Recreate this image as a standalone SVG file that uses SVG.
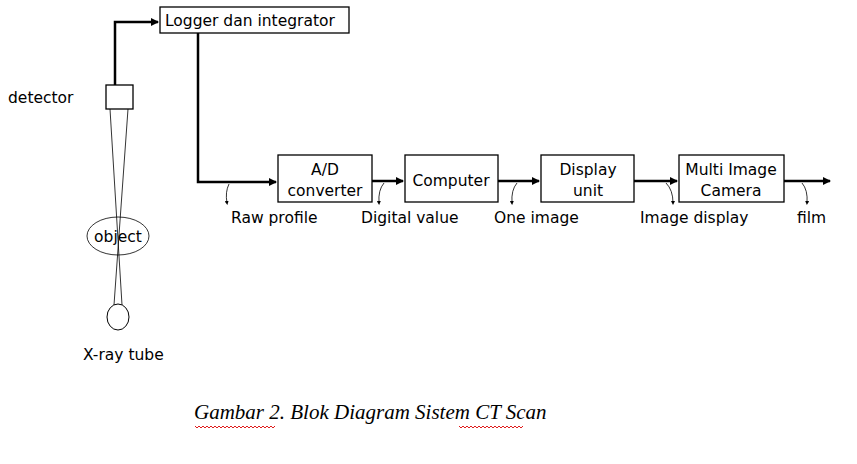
<svg xmlns="http://www.w3.org/2000/svg" width="857" height="464" viewBox="0 0 857 464">
<style>
.box{fill:#fff;stroke:#000;stroke-width:1.3}
.t{font-family:"DejaVu Sans",sans-serif;font-size:15.5px;fill:#000}
.c{text-anchor:middle}
.w{fill:none;stroke:#000;stroke-width:2.5}
.thin{fill:none;stroke:#000;stroke-width:0.8}
.cap{font-family:"Liberation Serif",serif;font-style:italic;font-size:21px}
</style>
<defs>
<marker id="a" markerWidth="8" markerHeight="8" refX="7" refY="4" orient="auto" markerUnits="userSpaceOnUse"><path d="M0,0L8,4L0,8z"/></marker>
<marker id="s" markerWidth="4" markerHeight="4" refX="2" refY="2" orient="auto" markerUnits="userSpaceOnUse"><path d="M0,0L4,2L0,4z"/></marker>
</defs>
<rect width="857" height="464" fill="#fff"/>
<g id="connectors">
<path class="w" d="M115,85V22H158" marker-end="url(#a)"/>
<path class="w" d="M198,33V182H276" marker-end="url(#a)"/>
<path class="w" d="M372,181H403" marker-end="url(#a)"/>
<path class="w" d="M498,181H539" marker-end="url(#a)"/>
<path class="w" d="M634,181H677" marker-end="url(#a)"/>
<path class="w" d="M784,181H830" marker-end="url(#a)"/>
<path class="thin" d="M110,109L122,305M128,109L114,305"/>
<path class="thin" d="M229,184Q225,192 227,203" marker-end="url(#s)"/>
<path class="thin" d="M384,183Q378,190 379,203" marker-end="url(#s)"/>
<path class="thin" d="M517,183Q511,190 512,203" marker-end="url(#s)"/>
<path class="thin" d="M666,183Q673,190 673,203" marker-end="url(#s)"/>
<path class="thin" d="M802,183Q808,190 807,203" marker-end="url(#s)"/>
</g>
<g id="logger"><rect class="box" x="160" y="7" width="189" height="26"/><text class="t" x="165" y="26">Logger dan integrator</text></g>
<g id="detector"><rect class="box" x="106" y="85" width="27" height="24"/><text class="t" x="8" y="103">detector</text></g>
<g id="object"><ellipse class="thin" cx="118" cy="236" rx="31" ry="19"/><text class="t c" x="118" y="242">object</text></g>
<g id="tube"><ellipse class="box" cx="118" cy="317" rx="11" ry="13" style="stroke-width:1"/><text class="t" x="83" y="360">X-ray tube</text></g>
<g id="ad"><rect class="box" x="278" y="155" width="94" height="47"/><text class="t c" x="325" y="175">A/D</text><text class="t c" x="325" y="196">converter</text></g>
<g id="computer"><rect class="box" x="405" y="155" width="93" height="47"/><text class="t c" x="451" y="186">Computer</text></g>
<g id="display"><rect class="box" x="541" y="155" width="93" height="47"/><text class="t c" x="588" y="175">Display</text><text class="t c" x="588" y="196">unit</text></g>
<g id="camera"><rect class="box" x="679" y="155" width="105" height="47"/><text class="t c" x="731" y="175">Multi Image</text><text class="t c" x="731" y="196">Camera</text></g>
<g id="labels">
<text class="t" x="231" y="223">Raw profile</text>
<text class="t" x="361" y="223">Digital value</text>
<text class="t" x="494" y="223">One image</text>
<text class="t" x="640" y="223">Image display</text>
<text class="t" x="797" y="223">film</text>
</g>
<text class="cap" x="194" y="419">Gambar 2. Blok Diagram Sistem CT Scan</text>
<path d="M195,426l2,2l2,-2l2,2l2,-2l2,2l2,-2l2,2l2,-2l2,2l2,-2l2,2l2,-2l2,2l2,-2l2,2l2,-2l2,2l2,-2l2,2l2,-2l2,2l2,-2l2,2l2,-2l2,2l2,-2l2,2l2,-2l2,2l2,-2l2,2l2,-2l2,2l2,-2l2,2l2,-2l2,2l2,-2l2,2l2,-2M459,426l2,2l2,-2l2,2l2,-2l2,2l2,-2l2,2l2,-2l2,2l2,-2l2,2l2,-2l2,2l2,-2l2,2l2,-2l2,2l2,-2l2,2l2,-2l2,2l2,-2l2,2l2,-2l2,2l2,-2l2,2l2,-2l2,2l2,-2l2,2l2,-2" fill="none" stroke="#d00" stroke-width="0.9"/>
</svg>
